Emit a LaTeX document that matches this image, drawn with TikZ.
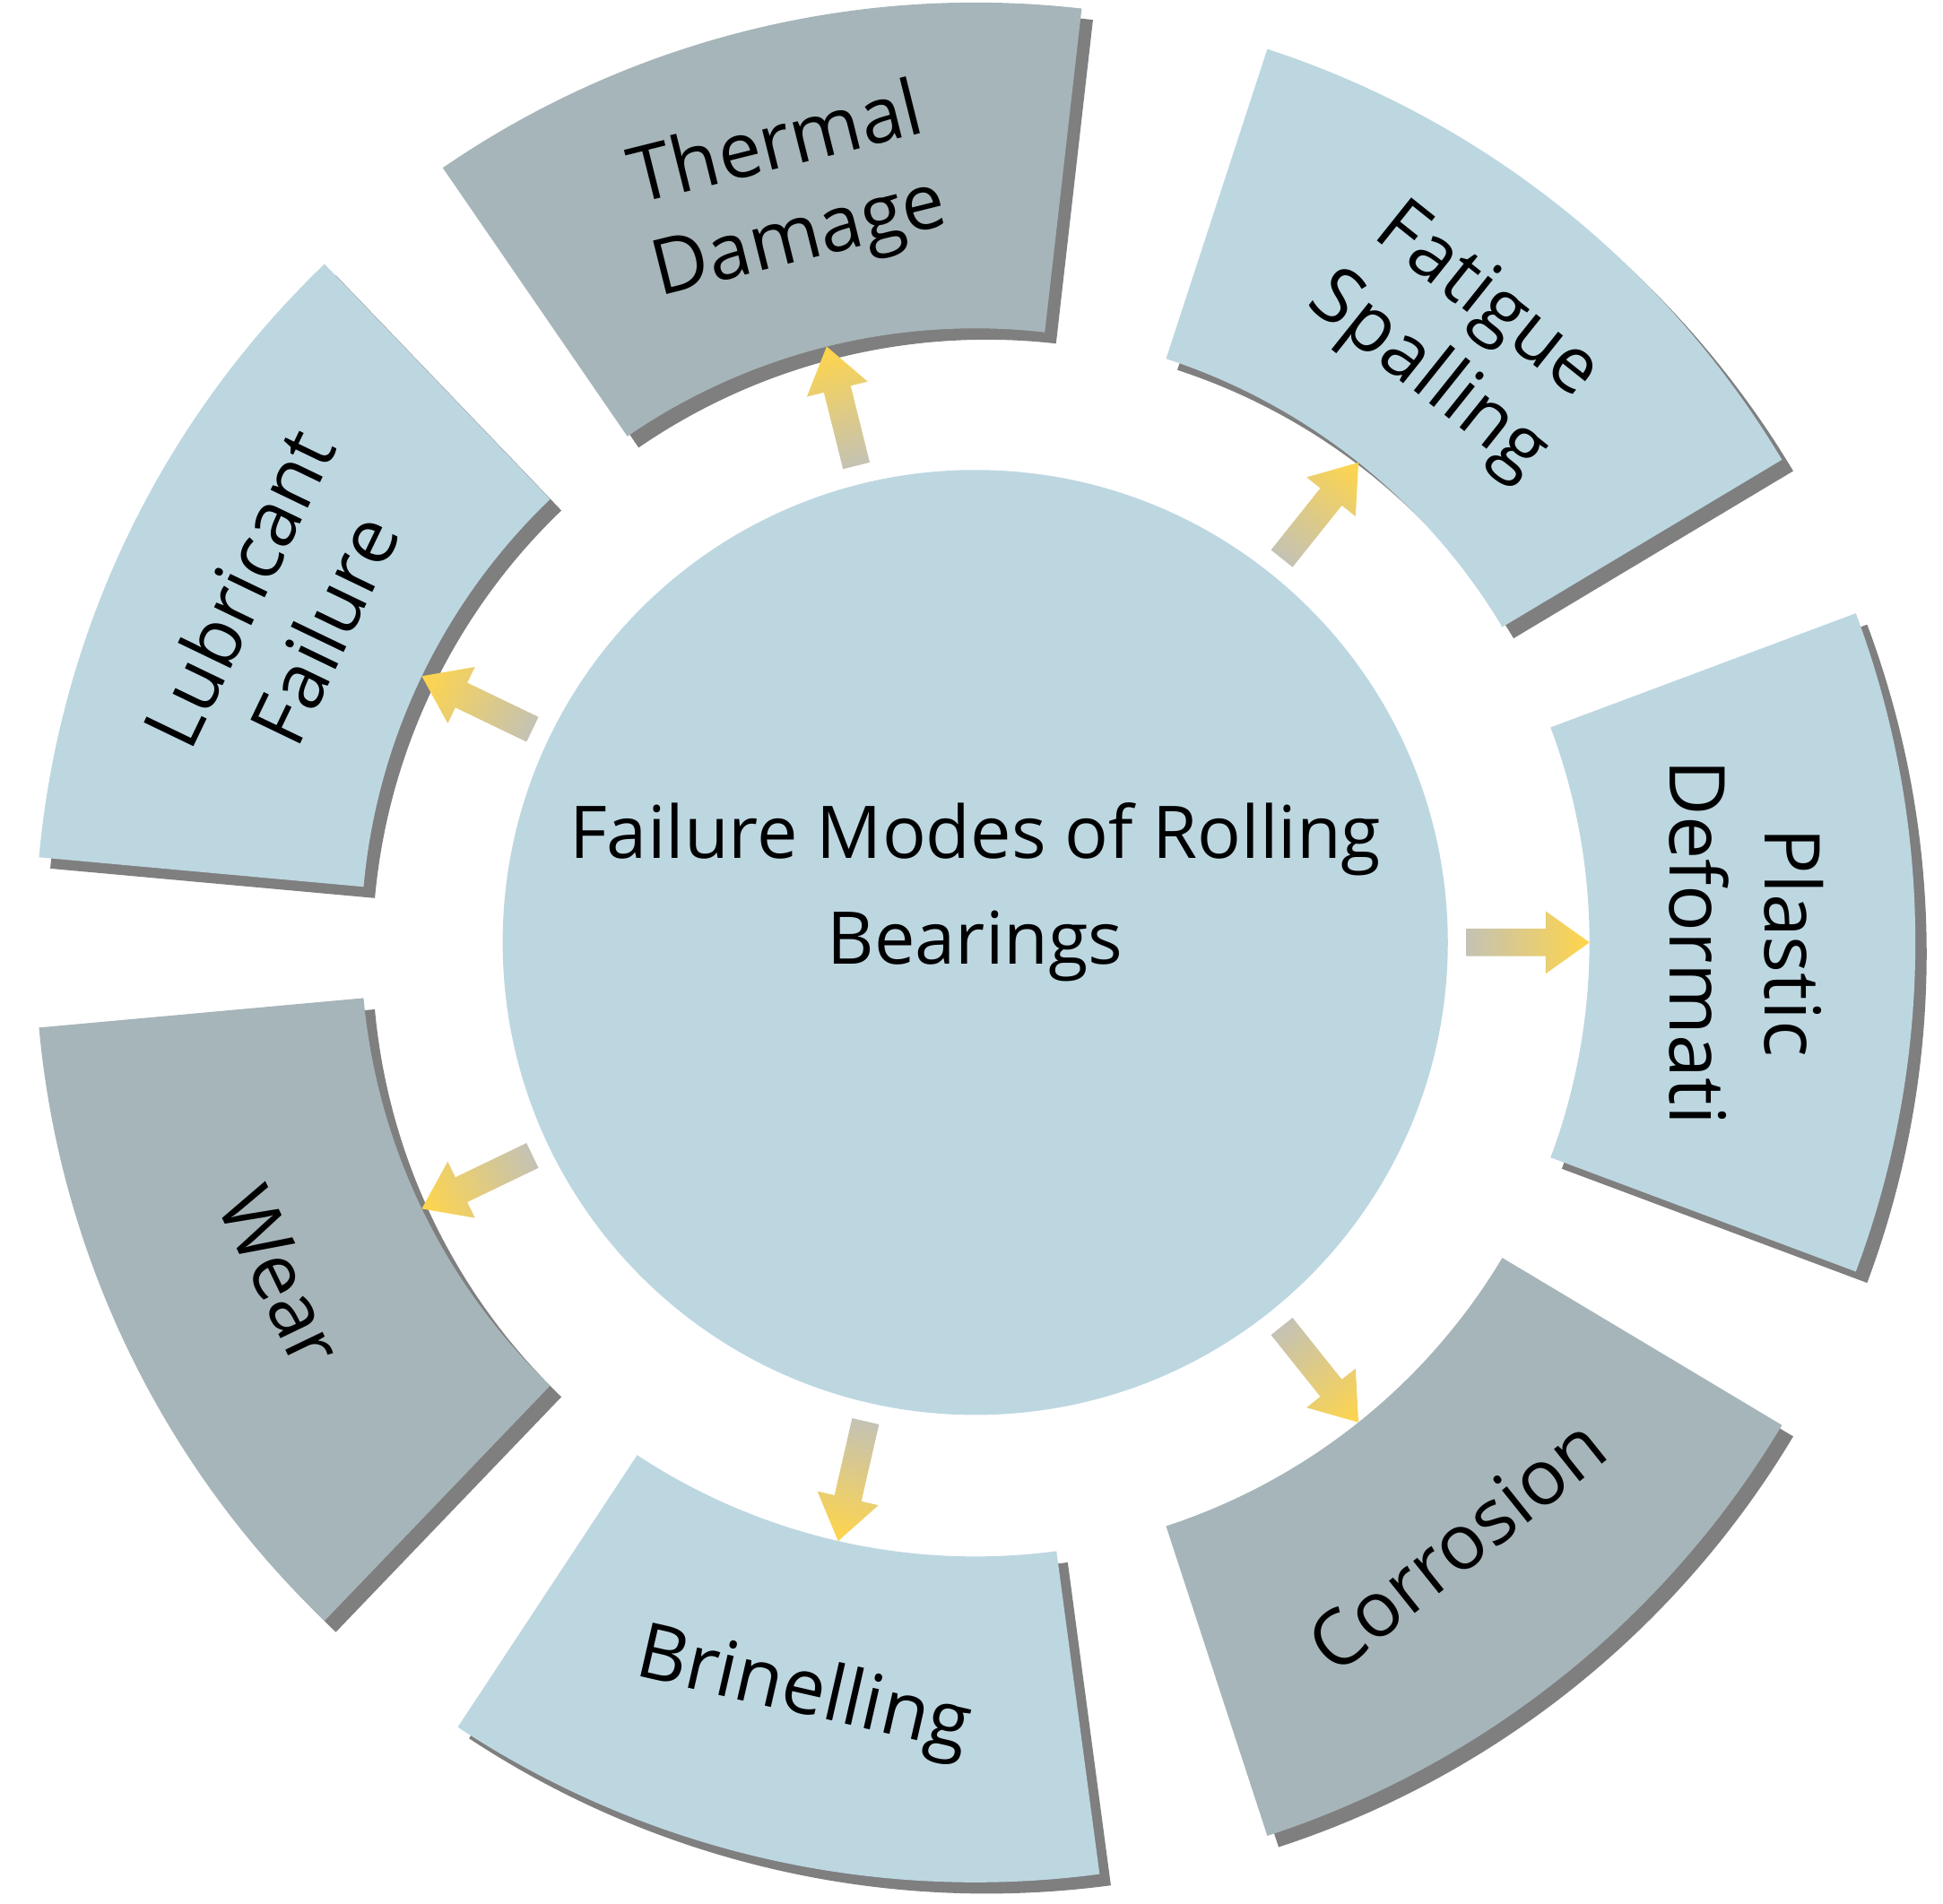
\documentclass[tikz,border=0pt]{standalone}
\usepackage{fontspec}
\setmainfont{Open Sans}
\definecolor{lb}{HTML}{BDD7E1}
\definecolor{gb}{HTML}{A6B5B9}
\definecolor{sh}{HTML}{7F7F7F}
\definecolor{ay}{HTML}{FFD54A}
\definecolor{ag}{HTML}{C4C2B4}
\begin{document}
\begin{tikzpicture}
\useasboundingbox (-7.78,-7.67) rectangle (7.72,7.52);
\tikzset{lbl/.style={font=\fontsize{17.5}{21.5}\selectfont,align=center,text=black}}
\foreach \a/\c/\t/\r/\n in {0/lb/{Plastic\\Deformati}/-90/s1,
 51.4/lb/{Fatigue\\Spalling}/-38.6/s2,
 104/gb/{Thermal\\Damage}/14/s3,
 154.3/lb/{Lubricant\\Failure}/64.3/s4,
 205.7/gb/{Wear}/-64.3/s5,
 257.1/lb/{Brinelling}/-12.9/s6,
 308.6/gb/{Corrosion}/38.6/s7}{
  \fill[sh,shift={(0.09,-0.09)}] (\a-20.5:4.9) arc[start angle=\a-20.5,end angle=\a+20.5,radius=4.9] -- (\a+20.5:7.5) arc[start angle=\a+20.5,end angle=\a-20.5,radius=7.5] -- cycle;
  \fill[\c] (\a-20.5:4.9) arc[start angle=\a-20.5,end angle=\a+20.5,radius=4.9] -- (\a+20.5:7.5) arc[start angle=\a+20.5,end angle=\a-20.5,radius=7.5] -- cycle;
  \node[lbl,rotate=\r] (\n) at (\a:6.15) {\t};
  \begin{scope}[transform canvas={rotate=\a}]
   \shade[left color=ag,right color=ay]
     (3.92,-0.11) -- (4.55,-0.11) -- (4.55,-0.25) -- (4.9,0) -- (4.55,0.25) -- (4.55,0.11) -- (3.92,0.11) -- cycle;
  \end{scope}
}
\node[circle,fill=lb,minimum size=7.54cm,inner sep=0pt] (c) at (0,0) {};
\node[font=\fontsize{16.5}{24}\selectfont,align=center] (ct) at (0,0.4) {Failure Modes of Rolling\\Bearings};
\end{tikzpicture}
\end{document}
